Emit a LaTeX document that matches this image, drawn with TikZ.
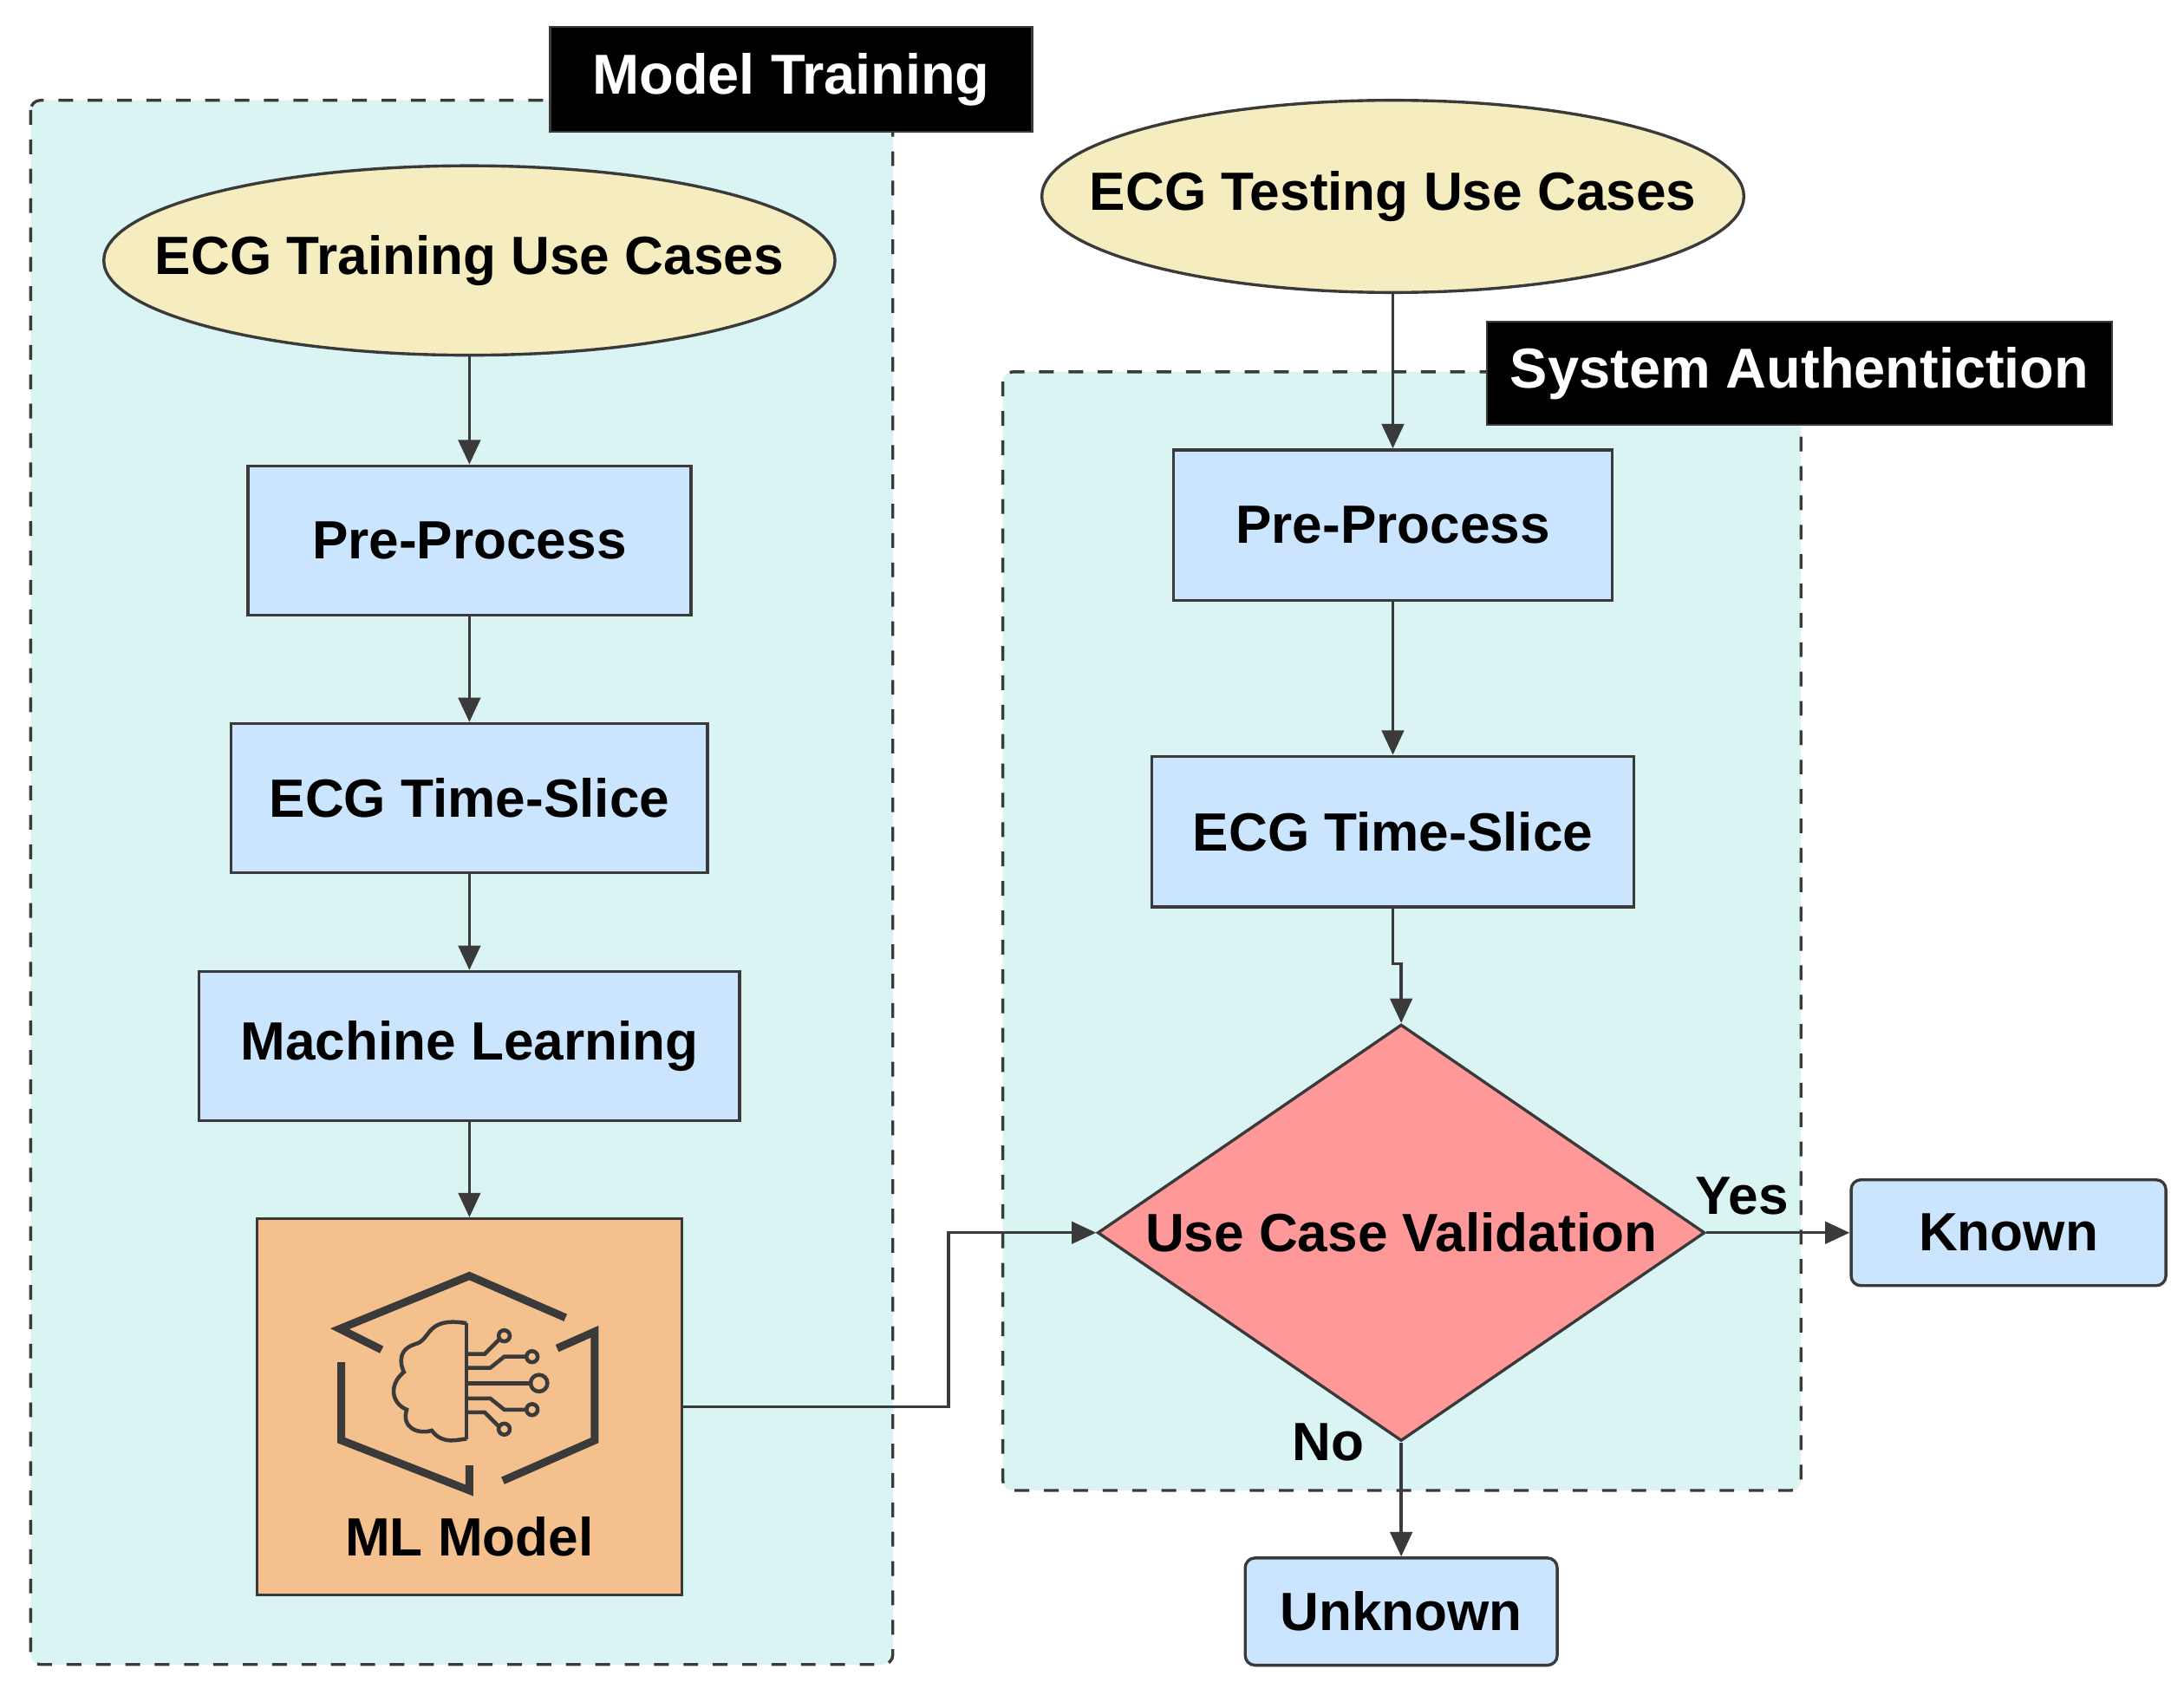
\documentclass[tikz,border=0pt]{standalone}
\usepackage{fontspec}
\setmainfont{Liberation Sans}
\usetikzlibrary{shapes.geometric,arrows.meta,calc}
\definecolor{grpfill}{HTML}{DAF4F4}
\definecolor{boxfill}{HTML}{CCE5FF}
\definecolor{ellfill}{HTML}{F5EDC0}
\definecolor{mlfill}{HTML}{F4C08E}
\definecolor{redfill}{HTML}{FF9999}
\definecolor{edge}{HTML}{3A3A3A}
\begin{document}
\begin{tikzpicture}[x=0.1mm,y=-0.1mm,
  font=\fontsize{11}{13}\selectfont\bfseries,
  grp/.style={draw=edge,fill=grpfill,dashed,line width=0.6pt,rounded corners=2pt},
  tag/.style={fill=black,draw=edge,text=white,inner sep=0pt,font=\fontsize{11.5}{14}\selectfont\bfseries},
  box/.style={draw=edge,fill=boxfill,line width=0.6pt,inner sep=0pt},
  ell/.style={ellipse,draw=edge,fill=ellfill,line width=0.6pt,inner xsep=-4mm,inner ysep=0pt},
  arr/.style={draw=edge,line width=0.6pt,-{Triangle[length=5pt,width=4.5pt]}}]
\useasboundingbox (0,0) rectangle (1568,1212);
% groups
\draw[grp] (22,72) rectangle (641,1195);
\draw[grp] (720,267) rectangle (1293,1070);
\node[tag,minimum width=346*0.1mm,minimum height=75*0.1mm] (tagL) at (568,57) {Model Training};
\node[tag,minimum width=449*0.1mm,minimum height=74*0.1mm] (tagR) at (1292,268) {System Authentiction};
% ellipses
\node[ell,minimum width=508*0.1mm,minimum height=136*0.1mm] (et) at (337,187) {ECG Training Use Cases};
\node[ell,minimum width=504*0.1mm,minimum height=138*0.1mm] (es) at (1000,141) {ECG Testing Use Cases};
% left column
\node[box,minimum width=318*0.1mm,minimum height=107*0.1mm] (pl) at (337,388) {Pre-Process};
\node[box,minimum width=342*0.1mm,minimum height=107*0.1mm] (tl) at (337,573) {ECG Time-Slice};
\node[box,minimum width=388*0.1mm,minimum height=107*0.1mm] (ml) at (337,751) {Machine Learning};
\node[draw=edge,fill=mlfill,line width=0.6pt,minimum width=305*0.1mm,minimum height=270*0.1mm] (mm) at (337,1010) {};
\node (mmt) at (337,1103) {ML Model};
% icon
\begin{scope}[draw=edge,line width=1.6pt]
\draw (274,969) -- (244,954) -- (337,916) -- (406,946);
\draw (245,978) -- (245,1034) -- (337,1070) -- (337,1052);
\draw (400,968) -- (427,956) -- (427,1034) -- (361,1063);
\end{scope}
\begin{scope}[draw=edge,line width=0.8pt]
\draw (335,950) -- (335,1033);
\draw (335,950) .. controls (305,945) and (310,962) .. (298,965) .. controls (282,970) and (290,985) .. (290,985) .. controls (278,995) and (282,1008) .. (292,1012) .. controls (288,1025) and (300,1030) .. (310,1027) .. controls (318,1038) and (330,1033) .. (335,1033);
\draw (335,972) -- (348,972) -- (358,962); \draw (362,959) circle (4);
\draw (335,982) -- (352,982) -- (362,974) -- (377,974); \draw (382,974) circle (4);
\draw (335,993) -- (380,993); \draw (387,993) circle (6);
\draw (335,1004) -- (352,1004) -- (362,1012) -- (377,1012); \draw (382,1012) circle (4);
\draw (335,1014) -- (348,1014) -- (358,1024); \draw (362,1026) circle (4);
\end{scope}
% right column
\node[box,minimum width=315*0.1mm,minimum height=108*0.1mm] (pr) at (1000,377) {Pre-Process};
\node[box,minimum width=346*0.1mm,minimum height=108*0.1mm] (tr) at (1000,597) {ECG Time-Slice};
\node[diamond,draw=edge,fill=redfill,line width=0.6pt,minimum width=436*0.1mm,minimum height=299*0.1mm,inner sep=0pt,aspect=1.46] (dv) at (1006,885) {Use Case Validation};
\node[box,minimum width=226*0.1mm,minimum height=76*0.1mm,rounded corners=2pt] (kn) at (1442,885) {Known};
\node[box,minimum width=224*0.1mm,minimum height=77*0.1mm,rounded corners=2pt] (un) at (1006,1157) {Unknown};
% connectors
\draw[arr] (et) -- (pl);
\draw[arr] (pl) -- (tl);
\draw[arr] (tl) -- (ml);
\draw[arr] (ml) -- (mm);
\draw[arr] (es) -- (pr);
\draw[arr] (pr) -- (tr);
\draw[arr] (tr.south) -- ++(0,40) -| (dv.north);
\draw[arr] (mm.east) -- (681,1010) |- (dv.west);
\draw[arr] (dv.east) -- node[above,pos=0.25] {Yes} (kn.west);
\draw[arr] (dv.south) -- node[pos=0,left,xshift=-4pt] {No} (un.north);
\end{tikzpicture}
\end{document}
